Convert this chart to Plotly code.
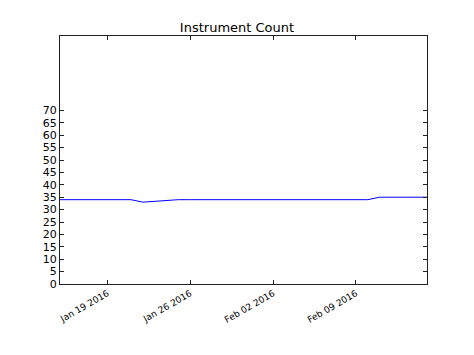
import plotly.graph_objects as go
import pandas as pd

dates = pd.bdate_range("2016-01-15", "2016-02-15")
date_strs = [d.strftime("%Y-%m-%d") for d in dates]
values = []
for d in dates:
    s = d.strftime("%Y-%m-%d")
    if s == "2016-01-22":
        values.append(33)
    elif s >= "2016-02-11":
        values.append(35)
    else:
        values.append(34)

x_tickvals = ["2016-01-19", "2016-01-26", "2016-02-02", "2016-02-09"]
x_ticktext = ["Jan 19 2016", "Jan 26 2016", "Feb 02 2016", "Feb 09 2016"]
y_tickvals = list(range(0, 75, 5))

fig = go.Figure()
fig.add_trace(go.Scatter(x=date_strs, y=values, mode="lines",
                         line=dict(color="#0000ff", width=1)))

axis_common = dict(showgrid=False, zeroline=False, showline=True, linecolor="#222222",
                   linewidth=1, mirror="allticks", ticks="inside", ticklen=4,
                   tickcolor="#222222")

fig.update_layout(
    width=474, height=355,
    margin=dict(l=60, r=47, t=36, b=71),
    paper_bgcolor="white", plot_bgcolor="white",
    showlegend=False,
    title=dict(text="Instrument Count", x=0.5, xanchor="center", y=1 - 27/355, yanchor="middle",
               font=dict(family="DejaVu Sans", size=13, color="black")),
    xaxis=dict(range=["2016-01-15", "2016-02-15"], tickvals=x_tickvals, ticktext=x_ticktext,
               tickangle=-30, tickfont=dict(family="DejaVu Sans", size=9, color="black"),
               **axis_common),
    yaxis=dict(range=[0, 100], tickvals=y_tickvals,
               tickfont=dict(family="DejaVu Sans", size=11, color="black"), **axis_common),
)

fig.write_html("out.html")
